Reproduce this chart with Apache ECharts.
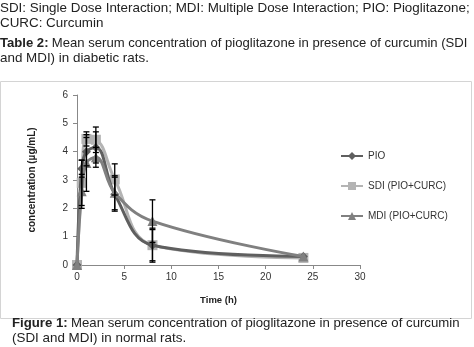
<!DOCTYPE html>
<html><head><meta charset="utf-8">
<script src="https://cdn.jsdelivr.net/npm/echarts@6/dist/echarts.min.js"></script>
<style>html,body{margin:0;padding:0;background:#fff;}#c{width:474px;height:347px;}</style>
</head><body><div id="c"></div>
<script>
var times = [0, 0.5, 1, 2, 4, 8, 24];
var pio = [0, 3.4, 4.0, 4.15, 2.5, 0.7, 0.3];
var sdi = [0, 2.9, 4.45, 4.42, 3.02, 0.7, 0.25];
var mdi = [0, 2.6, 3.6, 3.8, 2.55, 1.55, 0.3];
var pioErr = [0, 0.3, 0.5, 0.55, 0.6, 0.6, 0];
var sdiErr = [0, 0.8, 0.25, 0.45, 0.55, 0.55, 0];
var mdiErr = [0, 0.6, 1.0, 0.35, 0.6, 0.75, 0];
var xTicks = [0, 5, 10, 15, 20, 25, 30];
var yTicks = [0, 1, 2, 3, 4, 5, 6];
var names = ['PIO', 'SDI (PIO+CURC)', 'MDI (PIO+CURC)'];

function pairs(v){ return times.map(function(t,i){ return [t, v[i]]; }); }
function errData(v, e){ return times.map(function(t,i){ return [t, v[i]-e[i], v[i]+e[i]]; }); }

var FONT = 'Liberation Sans, Arial, sans-serif';
function errSeries(v, e){
  return {
    type: 'custom', z: 5, silent: true,
    data: errData(v, e),
    renderItem: function(params, api){
      if (api.value(2) - api.value(1) <= 0) return null;
      var lo = api.coord([api.value(0), api.value(1)]);
      var hi = api.coord([api.value(0), api.value(2)]);
      var w = 3;
      var st = {stroke:'#000', lineWidth:1.3};
      return {type:'group', children:[
        {type:'line', shape:{x1:lo[0],y1:lo[1],x2:hi[0],y2:hi[1]}, style:st},
        {type:'line', shape:{x1:lo[0]-w,y1:lo[1],x2:lo[0]+w,y2:lo[1]}, style:st},
        {type:'line', shape:{x1:hi[0]-w,y1:hi[1],x2:hi[0]+w,y2:hi[1]}, style:st}
      ]};
    }
  };
}

var chart = echarts.init(document.getElementById('c'));
chart.setOption({
  animation: false,
  textStyle: {fontFamily: FONT},
  grid: {left: 77, right: 114, top: 95, bottom: 82},
  xAxis: {
    type: 'value', min: xTicks[0], max: xTicks[xTicks.length-1], interval: 5,
    axisLine: {lineStyle: {color: '#888'}},
    axisTick: {lineStyle: {color: '#888'}, length: 4},
    axisLabel: {color: '#333', fontSize: 10, margin: 7},
    splitLine: {show: false},
    name: 'Time (h)', nameLocation: 'middle', nameGap: 30,
    nameTextStyle: {fontSize: 9.5, fontWeight: 'bold', color: '#222'}
  },
  yAxis: {
    type: 'value', min: yTicks[0], max: yTicks[yTicks.length-1], interval: 1,
    axisLine: {show: true, lineStyle: {color: '#888'}},
    axisTick: {show: true, lineStyle: {color: '#888'}, length: 4},
    axisLabel: {color: '#333', fontSize: 10, margin: 9},
    splitLine: {show: false},
    name: 'concentration (µg/mL)', nameLocation: 'middle', nameGap: 40,
    nameTextStyle: {fontSize: 10, fontWeight: 'bold', color: '#222'}
  },
  legend: {
    orient: 'vertical', left: 335, top: 146, itemGap: 20, itemWidth: 22, itemHeight: 10,
    textStyle: {fontSize: 10, color: '#333'},
    data: names
  },
  graphic: [
    {type:'rect', shape:{x:0.5, y:81.5, width:471, height:237}, style:{fill:'none', stroke:'#d4d4d4', lineWidth:1}, z:-1},
    {type:'text', left: 0, top: 2, style:{text:'SDI: Single Dose Interaction; MDI: Multiple Dose Interaction; PIO: Pioglitazone;', font:'13.4px '+FONT, fill:'#222'}},
    {type:'text', left: 0, top: 17, style:{text:'CURC: Curcumin', font:'13.4px '+FONT, fill:'#222'}},
    {type:'text', left: 0, top: 37, style:{rich:{b:{font:'bold 13.1px '+FONT, fill:'#222'}, n:{font:'13.1px '+FONT, fill:'#222'}}, text:'{b|Table 2:} {n|Mean serum concentration of pioglitazone in presence of curcumin (SDI}'}},
    {type:'text', left: 0, top: 52, style:{text:'and MDI) in diabetic rats.', font:'13.4px '+FONT, fill:'#222'}},
    {type:'text', left: 12, top: 317, style:{rich:{b:{font:'bold 13.2px '+FONT, fill:'#222'}, n:{font:'13.2px '+FONT, fill:'#222'}}, text:'{b|Figure 1:} {n|Mean serum concentration of pioglitazone in presence of curcumin}'}},
    {type:'text', left: 12, top: 332, style:{text:'(SDI and MDI) in normal rats.', font:'13.4px '+FONT, fill:'#222'}}
  ],
  series: [
    {name: names[0], type:'line', smooth: 0.4, data: pairs(pio), symbol:'diamond', symbolSize: 9,
     lineStyle:{color:'#5f5f5f', width:3}, itemStyle:{color:'#5f5f5f'}, z: 3},
    {name: names[1], type:'line', smooth: 0.4, data: pairs(sdi), symbol:'rect', symbolSize: 10,
     lineStyle:{color:'#b4b4b4', width:3}, itemStyle:{color:'#b4b4b4'}, z: 2},
    {name: names[2], type:'line', smooth: 0.4, data: pairs(mdi), symbol:'triangle', symbolSize: 10,
     lineStyle:{color:'#808080', width:3}, itemStyle:{color:'#808080'}, z: 4},
    errSeries(pio, pioErr), errSeries(sdi, sdiErr), errSeries(mdi, mdiErr)
  ]
});
</script></body></html>
